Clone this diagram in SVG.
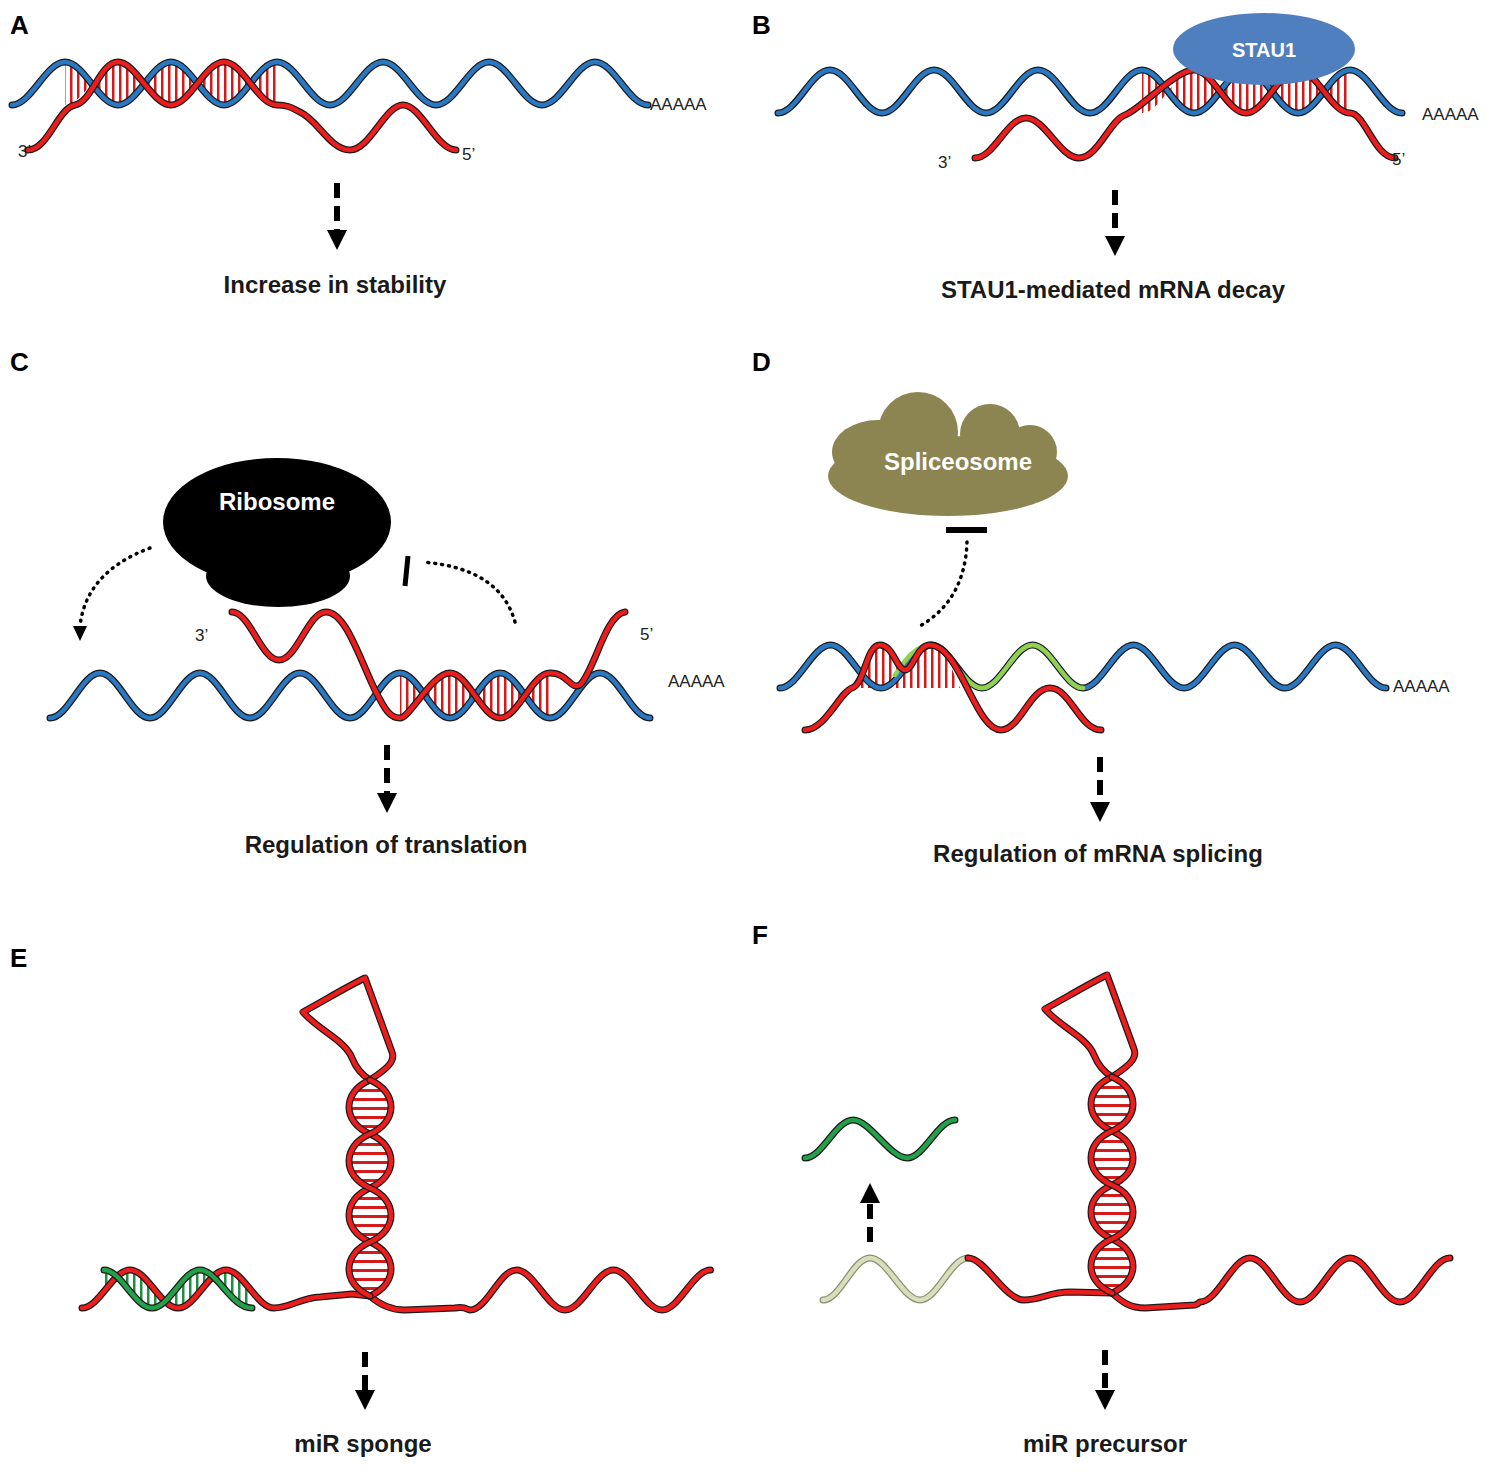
<svg xmlns="http://www.w3.org/2000/svg" xmlns:xlink="http://www.w3.org/1999/xlink" width="1498" height="1472" viewBox="0 0 1498 1472">
<style>
.o{fill:none;stroke:#1a1a1a;stroke-width:7;stroke-linecap:round;stroke-linejoin:round}
.bl{fill:none;stroke:#2a78c2;stroke-width:4.5;stroke-linecap:round}
.rd{fill:none;stroke:#ee1d1d;stroke-width:4.5;stroke-linecap:round}
.gn{fill:none;stroke:#22a04a;stroke-width:4.5;stroke-linecap:round}
.lg{fill:none;stroke:#92d050;stroke-width:4.5;stroke-linecap:round}
.po{fill:none;stroke:#8a8f78;stroke-width:7;stroke-linecap:round}
.pg{fill:none;stroke:#d8dfb8;stroke-width:4.5;stroke-linecap:round}
.lab{font-family:"Liberation Sans",Arial,sans-serif;font-weight:bold;font-size:26px;fill:#000}
.cap{font-family:"Liberation Sans",Arial,sans-serif;font-weight:bold;font-size:24px;fill:#1a1a1a;text-anchor:middle}
.sm{font-family:"Liberation Sans",Arial,sans-serif;font-size:17px;fill:#222}
.wt{font-family:"Liberation Sans",Arial,sans-serif;font-weight:bold;fill:#fff;text-anchor:middle}
.dash{stroke:#000;stroke-width:6;stroke-dasharray:15 8;fill:none}
.dot{stroke:#000;stroke-width:3.5;stroke-dasharray:1 6;stroke-linecap:round;fill:none}
</style>
<defs>
<pattern id="hv" width="7" height="10" patternUnits="userSpaceOnUse"><rect width="7" height="10" fill="#fff"/><rect x="0" width="2.5" height="10" fill="#d41a1a"/></pattern>
<pattern id="hh" width="10" height="9" patternUnits="userSpaceOnUse"><rect width="10" height="9" fill="#fff"/><rect y="0" width="10" height="3" fill="#d41a1a"/></pattern>
<pattern id="hg" width="7" height="10" patternUnits="userSpaceOnUse"><rect width="7" height="10" fill="#fff"/><rect x="0" width="2.5" height="10" fill="#1e8f40"/></pattern>
<path id="blA" d="M12 105 C31 105 46 62 65 62 S99 105 118 105 S152 62 171 62 S205 105 224 105 S258 62 277 62 S311 105 330 105 S364 62 383 62 S417 105 436 105 S470 62 489 62 S523 105 542 105 S576 62 595 62 S629 105 648 105"/>
<path id="rdA" d="M28 150 C48 150 58 108 75 105 C92 102 100 62 118 62 S152 105 171 105 S205 62 224 62 S258 105 277 105 C288 105 292 108 300 112 C318 120 330 150 350 150 S385 105 403 105 S437 150 456 150"/>
<path id="blB" d="M778 113 C797 113 811 70 830 70 S863 113 882 113 S915 70 934 70 S967 113 986 113 S1019 70 1038 70 S1071 113 1090 113 S1123 70 1142 70 S1175 113 1194 113 S1227 70 1246 70 S1279 113 1298 113 S1331 70 1350 70 S1383 113 1402 113"/>
<path id="rdB" d="M975 158 C994 158 1007 118 1026 118 S1060 158 1079 158 C1098 158 1110 120 1125 115 C1140 110 1175 70 1194 70 S1227 113 1246 113 S1279 70 1298 70 S1331 113 1350 113 C1365 113 1375 158 1395 158"/>
<path id="blC" d="M50 718 C68 718 82 673 100 673 S132 718 150 718 S182 673 200 673 S232 718 250 718 S282 673 300 673 S332 718 350 718 S382 673 400 673 S432 718 450 718 S482 673 500 673 S532 718 550 718 S582 673 600 673 S632 718 650 718"/>
<path id="rdC" d="M232 612 C250 612 261 660 279 660 S308 612 326 612 C346 612 360 660 375 690 C385 710 390 718 400 718 S432 673 450 673 S482 718 500 718 S532 673 550 673 C568 673 570 690 580 685 C595 670 605 615 625 612"/>
<path id="blD" d="M780 688 C798 688 812.5 645 830.5 645 S863 688 881 688 S913.5 645 931.5 645 S964 688 982 688 S1014.5 645 1032.5 645 S1065 688 1083 688 S1115.5 645 1133.5 645 S1166 688 1184 688 S1216.5 645 1234.5 645 S1267 688 1285 688 S1317.5 645 1335.5 645 S1368 688 1386 688"/>
<path id="lgD" d="M895 675 C905 660 915 645 931.5 645 S964 688 982 688 S1014.5 645 1032.5 645 S1065 688 1083 688"/>
<path id="rdD" d="M805 730 C825 730 840 692 852 688 C865 684 866 645 880 645 C893 645 897 670 905 670 C913 670 917 645 930 645 C960 645 975 730 1001 730 C1020 730 1030 688 1050 688 C1070 688 1080 730 1101 730"/>
<path id="s1" d="M370 1080 C398 1092 398 1122 370 1134 C342 1146 342 1176 370 1188 C398 1200 398 1230 370 1242 C342 1254 342 1284 370 1296"/>
<path id="s2" d="M370 1080 C342 1092 342 1122 370 1134 C398 1146 398 1176 370 1188 C342 1200 342 1230 370 1242 C398 1254 398 1284 370 1296"/>
<path id="loop" d="M370 1080 C385 1070 396 1062 392 1052 L365 978 C350 985 325 1000 303 1012 C318 1030 345 1040 352 1058 C356 1068 362 1075 370 1080"/>
<path id="lens" d="M370 1080 C398 1092 398 1122 370 1134 C342 1122 342 1092 370 1080 Z M370 1134 C398 1146 398 1176 370 1188 C342 1176 342 1146 370 1134 Z M370 1188 C398 1200 398 1230 370 1242 C342 1230 342 1200 370 1188 Z M370 1242 C398 1254 398 1284 370 1296 C342 1284 342 1254 370 1242 Z"/>
<g id="hairpin">
<use href="#lens" fill="url(#hh)"/>
<use href="#loop" class="o"/><use href="#loop" class="rd"/>
<use href="#s2" class="o"/><use href="#s2" class="rd"/>
<use href="#s1" class="o"/><use href="#s1" class="rd"/>
</g>
</defs>

<g id="labels">
<text class="lab" x="10" y="34">A</text>
<text class="lab" x="752" y="34">B</text>
<text class="lab" x="10" y="371">C</text>
<text class="lab" x="752" y="371">D</text>
<text class="lab" x="10" y="967">E</text>
<text class="lab" x="752" y="944">F</text>
</g>

<g id="panelA">
<path d="M65 62 C84 62 99 105 118 105 S152 62 171 62 S205 105 224 105 S258 62 277 62 L277 105 C258 105 243 62 224 62 S190 105 171 105 S137 62 118 62 S84 105 65 105 Z" fill="url(#hv)"/>
<use href="#blA" class="o"/><use href="#blA" class="bl"/>
<use href="#rdA" class="o"/><use href="#rdA" class="rd"/>
<text class="sm" x="650" y="110">AAAAA</text>
<text class="sm" x="18" y="157">3’</text>
<text class="sm" x="462" y="160">5’</text>
</g>

<g id="panelB">
<path d="M1142 70 C1161 70 1175 113 1194 113 S1227 70 1246 70 S1279 113 1298 113 S1331 70 1350 70 L1350 113 C1331 113 1317 70 1298 70 S1265 113 1246 113 S1213 70 1194 70 S1161 113 1142 113 Z" fill="url(#hv)"/>
<use href="#blB" class="o"/><use href="#blB" class="bl"/>
<use href="#rdB" class="o"/><use href="#rdB" class="rd"/>
<g id="stau1"><ellipse cx="1264" cy="49" rx="91" ry="36" fill="#4f7fbe"/><text class="wt" x="1264" y="57" font-size="20">STAU1</text></g>
<text class="sm" x="1422" y="120">AAAAA</text>
<text class="sm" x="938" y="168">3’</text>
<text class="sm" x="1392" y="165">5’</text>
</g>

<g id="panelC">
<g id="ribosome"><ellipse cx="277" cy="522" rx="114" ry="64" fill="#000"/><ellipse cx="278" cy="576" rx="72" ry="31" fill="#000"/><text class="wt" x="277" y="510" font-size="24">Ribosome</text></g>
<path d="M400 673 C418 673 432 718 450 718 S482 673 500 673 S532 718 550 718 L550 673 C532 673 518 718 500 718 S468 673 450 673 S418 718 400 718 Z" fill="url(#hv)"/>
<use href="#blC" class="o"/><use href="#blC" class="bl"/>
<use href="#rdC" class="o"/><use href="#rdC" class="rd"/>
<text class="sm" x="668" y="687">AAAAA</text>
<text class="sm" x="195" y="641">3’</text>
<text class="sm" x="640" y="640">5’</text>
</g>

<g id="panelD">
<g id="spliceosome" fill="#8c8451">
<ellipse cx="948" cy="476" rx="120" ry="40"/>
<circle cx="918" cy="432" r="40"/>
<circle cx="990" cy="434" r="30"/>
<circle cx="1030" cy="452" r="27"/>
<ellipse cx="878" cy="452" rx="46" ry="32"/>
<text class="wt" x="958" y="470" font-size="24">Spliceosome</text>
</g>
<path d="M852 688 C865 684 866 645 880 645 C893 645 897 670 905 670 C913 670 917 645 930 645 C945 645 952 670 960 688 Z" fill="url(#hv)"/>
<use href="#blD" class="o"/><use href="#blD" class="bl"/>
<use href="#lgD" class="lg"/>
<use href="#rdD" class="o"/><use href="#rdD" class="rd"/>
<text class="sm" x="1393" y="692">AAAAA</text>
</g>

<g id="panelE">
<path d="M104 1270 C121 1270 135 1308 152 1308 S183 1270 200 1270 S231 1308 252 1308 L252 1290 C240 1280 235 1270 226 1270 C209 1270 195 1308 178 1308 C161 1308 147 1270 130 1270 C118 1270 110 1285 104 1290 Z" fill="url(#hg)"/>
<path id="rdE1" d="M82 1308 C99 1308 113 1270 130 1270 S161 1308 178 1308 S209 1270 226 1270 S257 1308 274 1308 C290 1308 300 1298 320 1297 L352 1294 L370 1296" class="o"/>
<path d="M82 1308 C99 1308 113 1270 130 1270 S161 1308 178 1308 S209 1270 226 1270 S257 1308 274 1308 C290 1308 300 1298 320 1297 L352 1294 L370 1296" class="rd"/>
<path d="M104 1270 C121 1270 135 1308 152 1308 S183 1270 200 1270 S231 1308 252 1308" class="o"/>
<path d="M104 1270 C121 1270 135 1308 152 1308 S183 1270 200 1270 S231 1308 252 1308" class="gn"/>
<path d="M370 1296 C380 1305 390 1310 405 1310 L455 1308 C465 1306 468 1310 470 1310 C487 1310 499.5 1270 516.5 1270 S548 1310 565 1310 S596.5 1270 613.5 1270 S645 1310 662 1310 S693.5 1270 710.5 1270" class="o"/>
<path d="M370 1296 C380 1305 390 1310 405 1310 L455 1308 C465 1306 468 1310 470 1310 C487 1310 499.5 1270 516.5 1270 S548 1310 565 1310 S596.5 1270 613.5 1270 S645 1310 662 1310 S693.5 1270 710.5 1270" class="rd"/>
<use href="#hairpin"/>
</g>

<g id="panelF">
<path d="M823 1300 C840 1300 853 1258 870 1258 S903 1300 920 1300 S951 1258 968 1258" class="po"/>
<path d="M823 1300 C840 1300 853 1258 870 1258 S903 1300 920 1300 S951 1258 968 1258" class="pg"/>
<path d="M968 1258 C985 1258 1005 1300 1024 1300 C1040 1300 1050 1292 1070 1292 L1112 1293" class="o"/>
<path d="M968 1258 C985 1258 1005 1300 1024 1300 C1040 1300 1050 1292 1070 1292 L1112 1293" class="rd"/>
<path d="M1112 1293 C1122 1302 1130 1308 1145 1308 L1195 1305 C1198 1304 1200 1302 1200 1302 C1218 1302 1232 1258 1250 1258 S1282 1302 1300 1302 S1332 1258 1350 1258 S1382 1302 1400 1302 S1432 1258 1450 1258" class="o"/>
<path d="M1112 1293 C1122 1302 1130 1308 1145 1308 L1195 1305 C1198 1304 1200 1302 1200 1302 C1218 1302 1232 1258 1250 1258 S1282 1302 1300 1302 S1332 1258 1350 1258 S1382 1302 1400 1302 S1432 1258 1450 1258" class="rd"/>
<use href="#hairpin" transform="translate(742,-3)"/>
<path d="M805 1158 C822 1158 836 1120 853 1120 S890 1158 907 1158 S938 1120 955 1120" class="o"/>
<path d="M805 1158 C822 1158 836 1120 853 1120 S890 1158 907 1158 S938 1120 955 1120" class="gn"/>
</g>

<g id="connectors">
<line class="dash" x1="337" y1="183" x2="337" y2="232"/><polygon points="327,230 347,230 337,250"/>
<line class="dash" x1="1115" y1="190" x2="1115" y2="238"/><polygon points="1105,236 1125,236 1115,256"/>
<line class="dash" x1="387" y1="745" x2="387" y2="795"/><polygon points="377,793 397,793 387,813"/>
<line class="dash" x1="1100" y1="757" x2="1100" y2="804"/><polygon points="1090,802 1110,802 1100,822"/>
<line class="dash" x1="365" y1="1352" x2="365" y2="1392"/><polygon points="355,1390 375,1390 365,1410"/>
<line class="dash" x1="1105" y1="1350" x2="1105" y2="1392"/><polygon points="1095,1390 1115,1390 1105,1410"/>
<line class="dash" x1="870" y1="1242" x2="870" y2="1200"/><polygon points="860,1203 880,1203 870,1183"/>
<path class="dot" d="M150 548 Q86 572 80 626"/><polygon points="73,626 87,626 80,641"/>
<path class="dot" d="M515 622 Q500 568 422 562"/><line x1="408" y1="556" x2="405" y2="586" stroke="#000" stroke-width="5"/>
<path class="dot" d="M967 542 Q965 600 920 626"/><line x1="946" y1="530" x2="987" y2="530" stroke="#000" stroke-width="6"/>
</g>

<g id="captions">
<text class="cap" x="335" y="293">Increase in stability</text>
<text class="cap" x="1113" y="298">STAU1-mediated mRNA decay</text>
<text class="cap" x="386" y="853">Regulation of translation</text>
<text class="cap" x="1098" y="862">Regulation of mRNA splicing</text>
<text class="cap" x="363" y="1452">miR sponge</text>
<text class="cap" x="1105" y="1452">miR precursor</text>
</g>
</svg>
